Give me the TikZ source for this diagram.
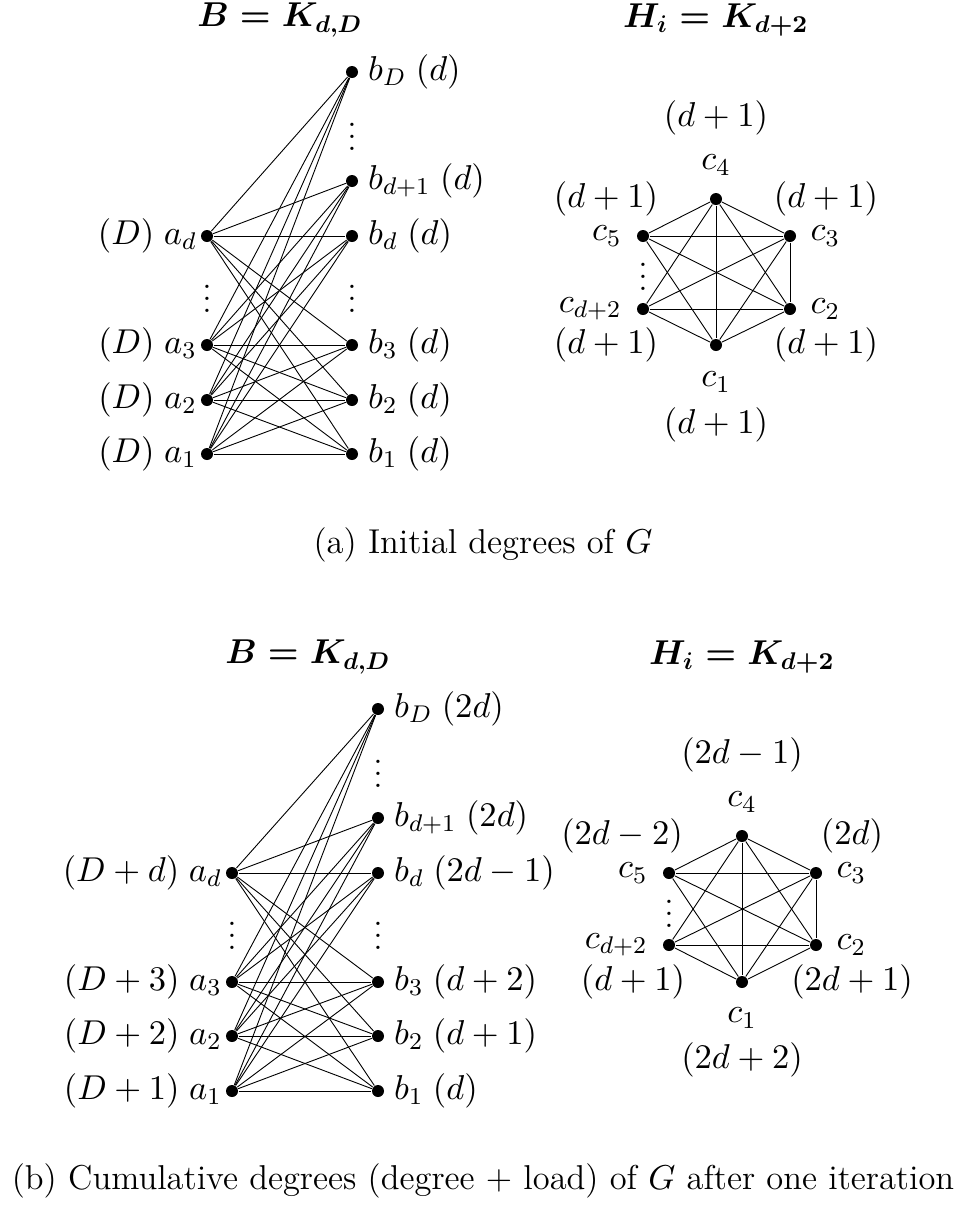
\RequirePackage{fix-cm}
\documentclass[tikz,border=0pt]{standalone}
\usepackage{amsmath}
\begin{document}
\begin{tikzpicture}[x=0.3333pt,y=-0.3333pt,
  every node/.style={font=\fontsize{11.5}{14}\selectfont},
  v/.style={circle,fill,inner sep=0pt,minimum size=4pt},
  e/.style={line width=0.3pt},
  lbl/.style={inner sep=1pt},
  dt/.style={inner sep=0pt}]
\useasboundingbox (0,0) rectangle (966,1212);
% ---------- (a) ----------
\node at (280,20) {$\boldsymbol{B=K_{d,D}}$};
\node at (716,20) {$\boldsymbol{H_i=K_{d+2}}$};
\foreach \n/\y in {ad/236,a3/345,a2/400,a1/454} \node[v] (A\n) at (207,\y) {};
\foreach \n/\y in {bD/72,bd1/181,bd/236,b3/345,b2/400,b1/454} \node[v] (A\n) at (352,\y) {};
\foreach \a in {ad,a3,a2,a1} \foreach \b in {bD,bd1,bd,b3,b2,b1} \draw[e] (A\a)--(A\b);
\node[lbl,anchor=east] at (Aad.west) {$(D)\;a_d$};
\node[lbl,anchor=east] at (Aa3.west) {$(D)\;a_3$};
\node[lbl,anchor=east] at (Aa2.west) {$(D)\;a_2$};
\node[lbl,anchor=east] at (Aa1.west) {$(D)\;a_1$};
\node[lbl,anchor=west] at ([xshift=2pt]AbD.east) {$b_D\;(d)$};
\node[lbl,anchor=west] at ([xshift=2pt]Abd1.east) {$b_{d+1}\;(d)$};
\node[lbl,anchor=west] at ([xshift=2pt]Abd.east) {$b_d\;(d)$};
\node[lbl,anchor=west] at ([xshift=2pt]Ab3.east) {$b_3\;(d)$};
\node[lbl,anchor=west] at ([xshift=2pt]Ab2.east) {$b_2\;(d)$};
\node[lbl,anchor=west] at ([xshift=2pt]Ab1.east) {$b_1\;(d)$};
\node[dt] (Ada) at (207,290) {$\vdots$};
\node[dt] (Adb1) at (352,128) {$\vdots$};
\node[dt] (Adb2) at (352,290) {$\vdots$};
% hexagon a
\node[v] (Ac4) at (716,199) {};
\node[v] (Ac3) at (790,236) {};
\node[v] (Ac2) at (790,309) {};
\node[v] (Ac1) at (716,345) {};
\node[v] (Acx) at (643,309) {};
\node[v] (Ac5) at (643,236) {};
\foreach \p/\q in {c4/c3,c4/c2,c4/c1,c4/cx,c4/c5,c3/c2,c3/c1,c3/cx,c3/c5,c2/c1,c2/cx,c2/c5,c1/cx,c1/c5}
  \draw[e] (A\p)--(A\q);
\node[dt] (Adc) at (643,268) {$\vdots$};
\node at (716,165) {$c_4$};
\node at (716,118) {$(d+1)$};
\node[anchor=west] at (800,236) {$c_3$};
\node at (826,199) {$(d+1)$};
\node[anchor=west] at (800,309) {$c_2$};
\node at (826,345) {$(d+1)$};
\node at (716,382) {$c_1$};
\node at (716,425) {$(d+1)$};
\node[anchor=east] at (632,236) {$c_5$};
\node at (606,199) {$(d+1)$};
\node[anchor=east] at (632,309) {$c_{d+2}$};
\node at (606,345) {$(d+1)$};
\node at (483,545) {(a) Initial degrees of $G$};
% ---------- (b) ----------
\node at (308,657) {$\boldsymbol{B=K_{d,D}}$};
\node at (742,657) {$\boldsymbol{H_i=K_{d+2}}$};
\foreach \n/\y in {ad/873,a3/982,a2/1036,a1/1091} \node[v] (B\n) at (232,\y) {};
\foreach \n/\y in {bD/709,bd1/818,bd/873,b3/982,b2/1036,b1/1091} \node[v] (B\n) at (378,\y) {};
\foreach \a in {ad,a3,a2,a1} \foreach \b in {bD,bd1,bd,b3,b2,b1} \draw[e] (B\a)--(B\b);
\node[lbl,anchor=east] at (Bad.west) {$(D+d)\;a_d$};
\node[lbl,anchor=east] at (Ba3.west) {$(D+3)\;a_3$};
\node[lbl,anchor=east] at (Ba2.west) {$(D+2)\;a_2$};
\node[lbl,anchor=east] at (Ba1.west) {$(D+1)\;a_1$};
\node[lbl,anchor=west] at ([xshift=2pt]BbD.east) {$b_D\;(2d)$};
\node[lbl,anchor=west] at ([xshift=2pt]Bbd1.east) {$b_{d+1}\;(2d)$};
\node[lbl,anchor=west] at ([xshift=2pt]Bbd.east) {$b_d\;(2d-1)$};
\node[lbl,anchor=west] at ([xshift=2pt]Bb3.east) {$b_3\;(d+2)$};
\node[lbl,anchor=west] at ([xshift=2pt]Bb2.east) {$b_2\;(d+1)$};
\node[lbl,anchor=west] at ([xshift=2pt]Bb1.east) {$b_1\;(d)$};
\node[dt] (Bda) at (232,927) {$\vdots$};
\node[dt] (Bdb1) at (378,765) {$\vdots$};
\node[dt] (Bdb2) at (378,927) {$\vdots$};
\node[v] (Bc4) at (742,836) {};
\node[v] (Bc3) at (816,873) {};
\node[v] (Bc2) at (816,945) {};
\node[v] (Bc1) at (742,982) {};
\node[v] (Bcx) at (669,945) {};
\node[v] (Bc5) at (669,873) {};
\foreach \p/\q in {c4/c3,c4/c2,c4/c1,c4/cx,c4/c5,c3/c2,c3/c1,c3/cx,c3/c5,c2/c1,c2/cx,c2/c5,c1/cx,c1/c5}
  \draw[e] (B\p)--(B\q);
\node[dt] (Bdc) at (669,905) {$\vdots$};
\node at (742,802) {$c_4$};
\node at (742,755) {$(2d-1)$};
\node[anchor=west] at (826,873) {$c_3$};
\node at (852,836) {$(2d)$};
\node[anchor=west] at (826,945) {$c_2$};
\node at (852,982) {$(2d+1)$};
\node at (742,1018) {$c_1$};
\node at (742,1060) {$(2d+2)$};
\node[anchor=east] at (658,873) {$c_5$};
\node at (622,836) {$(2d-2)$};
\node[anchor=east] at (658,945) {$c_{d+2}$};
\node at (633,982) {$(d+1)$};
\node at (483,1181) {(b) Cumulative degrees (degree + load) of $G$ after one iteration};
\end{tikzpicture}
\end{document}
